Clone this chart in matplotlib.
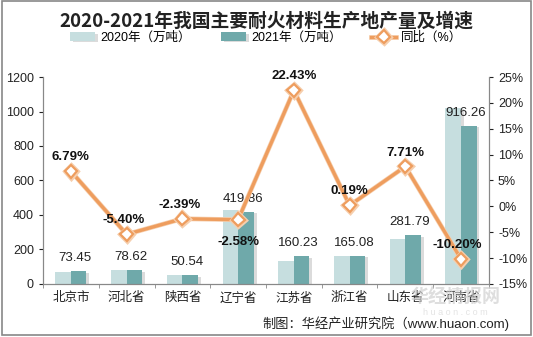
import matplotlib.pyplot as plt
import matplotlib.patheffects as pe
import numpy as np

plt.rcParams['font.family'] = ['Liberation Sans', 'Noto Sans CJK SC', 'DejaVu Sans']

provinces = ['北京市', '河北省', '陕西省', '辽宁省', '江苏省', '浙江省', '山东省', '河南省']
output_2020 = [68.78, 83.11, 51.78, 430.98, 130.87, 164.77, 261.62, 1020.33]
output_2021 = [73.45, 78.62, 50.54, 419.86, 160.23, 165.08, 281.79, 916.26]
growth = [6.79, -5.40, -2.39, -2.58, 22.43, 0.19, 7.71, -10.20]

c2020 = '#C6DEDF'
c2021 = '#6FA9AA'
cline = '#EE9D5E'

fig = plt.figure(figsize=(5.33, 3.37), dpi=100)
ax = fig.add_axes([0.0807, 0.1573, 0.8367, 0.6142])
ax2 = ax.twinx()

x = np.arange(len(provinces))
w = 0.28
shadow = [pe.SimplePatchShadow(offset=(2, -1), shadow_rgbFace='#999999', alpha=0.35), pe.Normal()]
b1 = ax.bar(x - w / 2, output_2020, w, color=c2020, label='2020年（万吨）', zorder=2)
b2 = ax.bar(x + w / 2, output_2021, w, color=c2021, label='2021年（万吨）', zorder=2)
for b in list(b1) + list(b2):
    b.set_path_effects(shadow)

for i, v in enumerate(output_2021):
    ax.annotate(f'{v:.2f}', (i + 0.08, v), xytext=(0, 5), textcoords='offset points',
                ha='center', va='bottom', fontsize=9.5, color='#222222', zorder=5)

ln, = ax2.plot(x, growth, color=cline, lw=2.4, marker='D', ms=6.5,
               mfc='white', mec=cline, mew=1.6, label='同比（%）', zorder=4,
               path_effects=[pe.Stroke(linewidth=3.4, foreground='#F6CFAE'), pe.Normal()])

# label offsets in points (dx, dy) for each growth value
offsets = [(0, 10), (-2, 10), (-2, 10), (0, -16), (0, 10), (0, 10), (0, 10), (-3, 10)]
for i, g in enumerate(growth):
    dx, dy = offsets[i]
    ax2.annotate(f'{g:.2f}%', (i, g), xytext=(dx, dy), textcoords='offset points',
                 ha='center', va='center', fontsize=9.5, fontweight='bold', color='#111111', zorder=6)

ax.set_xlim(-0.5, len(provinces) - 0.5)
ax.set_ylim(0, 1200)
ax.set_yticks(np.arange(0, 1201, 200))
ax2.set_ylim(-15, 25)
ax2.set_yticks(np.arange(-15, 26, 5))
ax2.set_yticklabels([f'{t}%' for t in range(-15, 26, 5)])

ax.set_xticks(x)
ax.set_xticklabels(provinces, fontsize=9, color='#222222')
ax.set_xticks(np.arange(-0.5, len(provinces), 1), minor=True)
ax.tick_params(axis='x', which='major', length=0, pad=6)
ax.tick_params(axis='x', which='minor', length=3, color='#888888')
ax.tick_params(axis='y', labelsize=9, colors='#222222', length=3)
ax2.tick_params(axis='y', labelsize=9, colors='#222222', length=3)
for a in (ax, ax2):
    a.spines['top'].set_visible(False)
    for s in ('left', 'right', 'bottom'):
        a.spines[s].set_color('#888888')
for t in ax.get_yticklines() + ax2.get_yticklines():
    t.set_color('#888888')

fig.text(0.5, 0.938, '2020-2021年我国主要耐火材料生产地产量及增速', ha='center', va='center',
         fontsize=13.5, fontweight='bold', family=['Noto Sans CJK SC'], color='#222222')

fig.legend(handles=[b1, b2, ln], loc='center', bbox_to_anchor=(0.5, 0.888), ncol=3,
           frameon=False, handlelength=2.0, handletextpad=0.4, columnspacing=2.4,
           prop={'family': ['Liberation Sans', 'Noto Sans CJK SC'], 'size': 9})

# faint site watermark behind the bottom-right labels
fig.text(0.855, 0.118, '华经情报网', ha='center', va='center', fontsize=13, fontweight='bold',
         color='#D0D0D0', alpha=0.7, family=['Noto Sans CJK SC'], zorder=0)
fig.text(0.855, 0.072, 'h u a o n . c o m', ha='center', va='center', fontsize=6.5,
         color='#D8D8D8', alpha=0.7, zorder=0)

fig.text(0.955, 0.04, '制图：华经产业研究院（www.huaon.com)', ha='right', va='center',
         fontsize=9.5, color='#222222')

fig.patches.append(plt.Rectangle((0.004, 0.006), 0.992, 0.99, transform=fig.transFigure,
                                 fill=False, edgecolor='#888888', lw=1.2))

fig.savefig('out.png', dpi=100)
